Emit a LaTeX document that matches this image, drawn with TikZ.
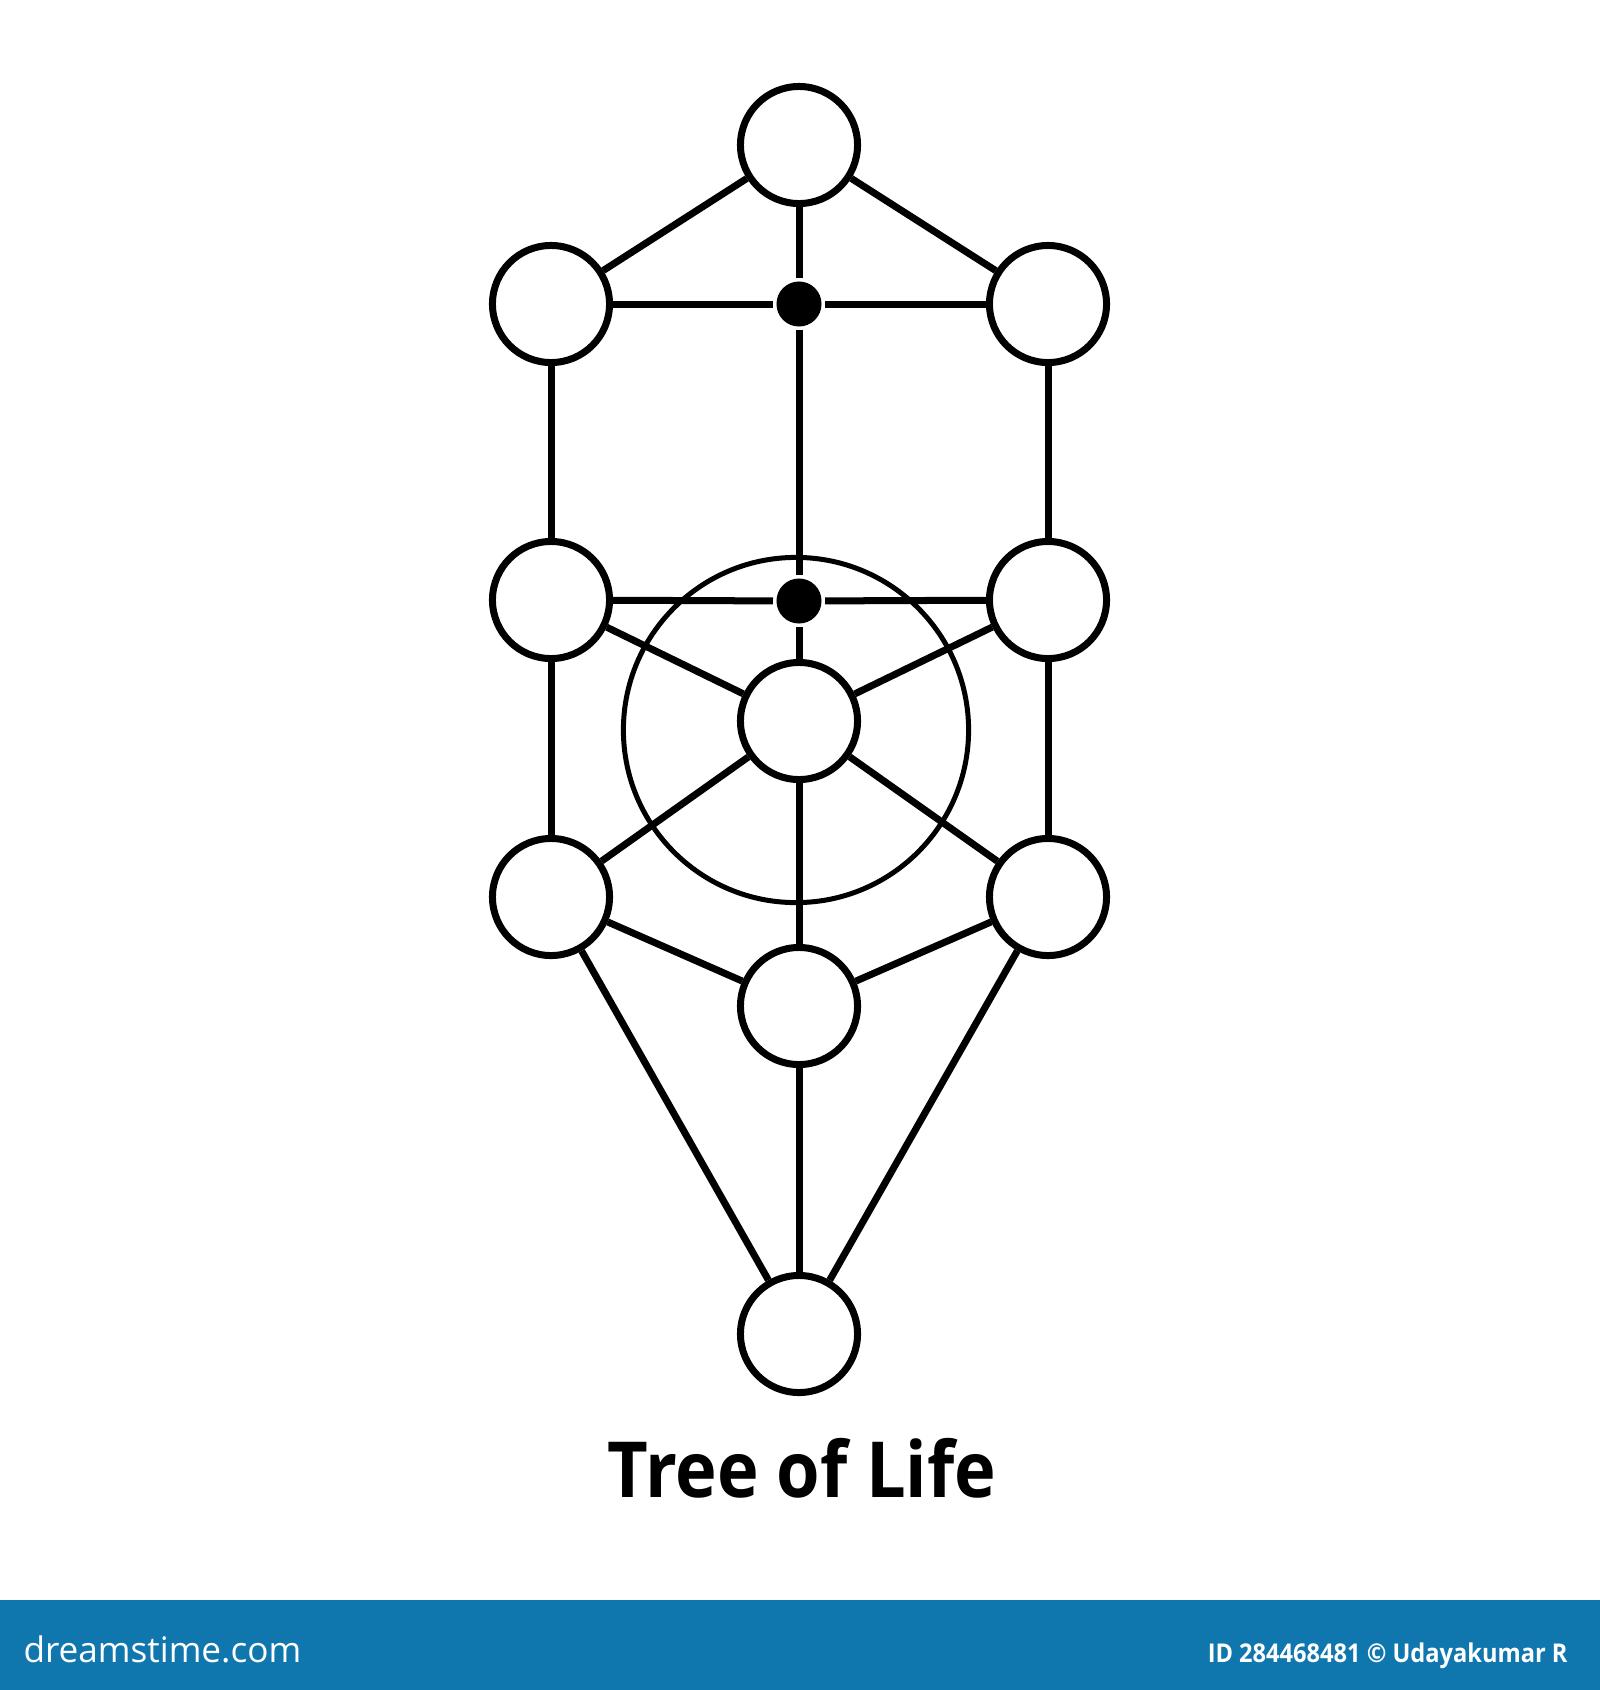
\documentclass[tikz,border=0pt]{standalone}
\usepackage{fontspec}
\setmainfont{Open Sans}
\usepackage{xcolor}
\usepackage{tikz}
\definecolor{bannerblue}{HTML}{1077AE}

\begin{document}
\begin{tikzpicture}[x=0.01cm,y=-0.01cm,line width=0.07cm]
\tikzstyle{sphere}=[circle,draw=black,fill=white,line width=0.07cm,minimum size=1.17cm,inner sep=0pt]
\tikzstyle{knot}=[circle,fill=black,minimum size=0.45cm,inner sep=0pt]
\tikzstyle{halo}=[circle,draw=black,line width=0.05cm,minimum size=3.45cm,inner sep=0pt]
\useasboundingbox (0,0) rectangle (1600,1690);
\node[halo] (ring) at (796,730) {};
\node[sphere] (top) at (799,145) {};
\node[sphere] (ul) at (551,304) {};
\node[sphere] (ur) at (1048,304) {};
\node[sphere] (ml) at (551,600) {};
\node[sphere] (mr) at (1048,600) {};
\node[sphere] (mid) at (799,721) {};
\node[sphere] (ll) at (551,897) {};
\node[sphere] (lr) at (1048,897) {};
\node[sphere] (lc) at (799,1006) {};
\node[sphere] (bot) at (799,1334) {};
\node[knot] (k1) at (799,304) {};
\node[knot] (k2) at (799,601) {};
\draw (top) -- (ul);
\draw (top) -- (ur);
\draw (top) -- (k1);
\draw (ul) -- (k1) -- (ur);
\draw (k1) -- (k2);
\draw (ml) -- (k2) -- (mr);
\draw (k2) -- (mid);
\draw (ul) -- (ml);
\draw (ur) -- (mr);
\draw (ml) -- (ll);
\draw (mr) -- (lr);
\draw (ml) -- (mid);
\draw (mr) -- (mid);
\draw (ll) -- (mid);
\draw (lr) -- (mid);
\draw (mid) -- (lc);
\draw (ll) -- (lc);
\draw (lr) -- (lc);
\draw (ll) -- (bot);
\draw (lr) -- (bot);
\draw (lc) -- (bot);
\node[anchor=base,font=\bfseries\fontsize{22pt}{26pt}\selectfont] (title) at (802,1497) {\scalebox{0.91}[1]{Tree of Life}};
% banner
\fill[bannerblue] (0,1600) rectangle (1600,1690);
\node[anchor=base west,text=white,font=\fontsize{10pt}{12pt}\selectfont,inner sep=0pt] (site) at (20,1662) {dreamstime.com};
\node[anchor=base east,text=white,font=\bfseries\fontsize{7pt}{9pt}\selectfont,inner sep=0pt] (credit) at (1571,1662) {\scalebox{0.96}[1.05]{ID 284468481 © Udayakumar R}};
\end{tikzpicture}
\end{document}
